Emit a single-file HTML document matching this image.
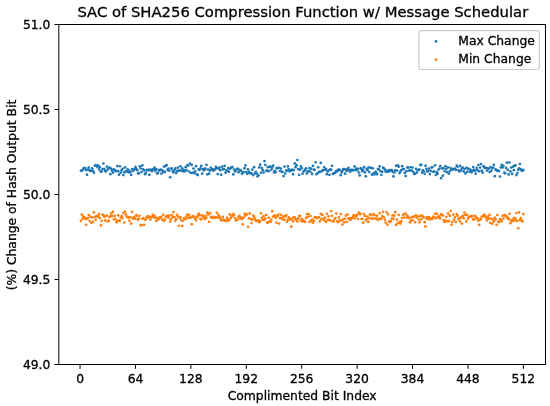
<!DOCTYPE html>
<html><head><meta charset="utf-8"><style>
html,body{margin:0;padding:0;background:#fff;width:550px;height:406px;overflow:hidden}
svg{display:block}
text{font-family:"DejaVu Sans","Liberation Sans",sans-serif;stroke:#000;stroke-width:0.3px}
</style></head><body>
<svg width="550" height="406" viewBox="0 0 550 406">
<rect width="550" height="406" fill="#fff"/>
<g fill="#1f77b4"><circle cx="80.93" cy="170.82" r="1.35"/><circle cx="81.79" cy="170.45" r="1.35"/><circle cx="82.66" cy="169.99" r="1.35"/><circle cx="83.52" cy="168.32" r="1.35"/><circle cx="84.39" cy="168.19" r="1.35"/><circle cx="85.25" cy="168.09" r="1.35"/><circle cx="86.12" cy="170.12" r="1.35"/><circle cx="86.99" cy="174.70" r="1.35"/><circle cx="87.85" cy="169.64" r="1.35"/><circle cx="88.72" cy="167.59" r="1.35"/><circle cx="89.58" cy="170.29" r="1.35"/><circle cx="90.45" cy="170.79" r="1.35"/><circle cx="91.32" cy="170.96" r="1.35"/><circle cx="92.18" cy="168.33" r="1.35"/><circle cx="93.05" cy="170.77" r="1.35"/><circle cx="93.91" cy="172.68" r="1.35"/><circle cx="94.78" cy="165.74" r="1.35"/><circle cx="95.64" cy="165.24" r="1.35"/><circle cx="96.51" cy="165.24" r="1.35"/><circle cx="97.38" cy="167.06" r="1.35"/><circle cx="98.24" cy="165.50" r="1.35"/><circle cx="99.11" cy="169.47" r="1.35"/><circle cx="99.97" cy="167.01" r="1.35"/><circle cx="100.84" cy="171.67" r="1.35"/><circle cx="101.71" cy="171.23" r="1.35"/><circle cx="102.57" cy="169.11" r="1.35"/><circle cx="103.44" cy="163.51" r="1.35"/><circle cx="104.30" cy="168.79" r="1.35"/><circle cx="105.17" cy="170.89" r="1.35"/><circle cx="106.03" cy="171.30" r="1.35"/><circle cx="106.90" cy="166.50" r="1.35"/><circle cx="107.77" cy="169.52" r="1.35"/><circle cx="108.63" cy="168.09" r="1.35"/><circle cx="109.50" cy="167.64" r="1.35"/><circle cx="110.36" cy="174.13" r="1.35"/><circle cx="111.23" cy="168.66" r="1.35"/><circle cx="112.10" cy="170.65" r="1.35"/><circle cx="112.96" cy="172.77" r="1.35"/><circle cx="113.83" cy="169.40" r="1.35"/><circle cx="114.69" cy="170.16" r="1.35"/><circle cx="115.56" cy="171.03" r="1.35"/><circle cx="116.42" cy="170.99" r="1.35"/><circle cx="117.29" cy="166.10" r="1.35"/><circle cx="118.16" cy="171.17" r="1.35"/><circle cx="119.02" cy="174.64" r="1.35"/><circle cx="119.89" cy="166.23" r="1.35"/><circle cx="120.75" cy="172.68" r="1.35"/><circle cx="121.62" cy="170.35" r="1.35"/><circle cx="122.49" cy="168.86" r="1.35"/><circle cx="123.35" cy="175.12" r="1.35"/><circle cx="124.22" cy="172.23" r="1.35"/><circle cx="125.08" cy="167.38" r="1.35"/><circle cx="125.95" cy="171.31" r="1.35"/><circle cx="126.81" cy="171.32" r="1.35"/><circle cx="127.68" cy="169.36" r="1.35"/><circle cx="128.55" cy="172.29" r="1.35"/><circle cx="129.41" cy="170.84" r="1.35"/><circle cx="130.28" cy="172.17" r="1.35"/><circle cx="131.14" cy="174.88" r="1.35"/><circle cx="132.01" cy="169.00" r="1.35"/><circle cx="132.88" cy="170.88" r="1.35"/><circle cx="133.74" cy="169.74" r="1.35"/><circle cx="134.61" cy="169.07" r="1.35"/><circle cx="135.47" cy="166.89" r="1.35"/><circle cx="136.34" cy="168.97" r="1.35"/><circle cx="137.20" cy="170.21" r="1.35"/><circle cx="138.07" cy="173.42" r="1.35"/><circle cx="138.94" cy="173.15" r="1.35"/><circle cx="139.80" cy="166.29" r="1.35"/><circle cx="140.67" cy="168.46" r="1.35"/><circle cx="141.53" cy="172.07" r="1.35"/><circle cx="142.40" cy="165.29" r="1.35"/><circle cx="143.26" cy="169.30" r="1.35"/><circle cx="144.13" cy="170.42" r="1.35"/><circle cx="145.00" cy="174.14" r="1.35"/><circle cx="145.86" cy="172.80" r="1.35"/><circle cx="146.73" cy="170.11" r="1.35"/><circle cx="147.59" cy="169.89" r="1.35"/><circle cx="148.46" cy="170.21" r="1.35"/><circle cx="149.33" cy="174.80" r="1.35"/><circle cx="150.19" cy="169.70" r="1.35"/><circle cx="151.06" cy="170.08" r="1.35"/><circle cx="151.92" cy="171.27" r="1.35"/><circle cx="152.79" cy="169.35" r="1.35"/><circle cx="153.65" cy="169.46" r="1.35"/><circle cx="154.52" cy="167.69" r="1.35"/><circle cx="155.39" cy="171.06" r="1.35"/><circle cx="156.25" cy="169.17" r="1.35"/><circle cx="157.12" cy="173.53" r="1.35"/><circle cx="157.98" cy="172.81" r="1.35"/><circle cx="158.85" cy="170.09" r="1.35"/><circle cx="159.72" cy="170.38" r="1.35"/><circle cx="160.58" cy="169.66" r="1.35"/><circle cx="161.45" cy="173.60" r="1.35"/><circle cx="162.31" cy="170.22" r="1.35"/><circle cx="163.18" cy="172.04" r="1.35"/><circle cx="164.04" cy="166.59" r="1.35"/><circle cx="164.91" cy="171.89" r="1.35"/><circle cx="165.78" cy="165.97" r="1.35"/><circle cx="166.64" cy="165.04" r="1.35"/><circle cx="167.51" cy="169.94" r="1.35"/><circle cx="168.37" cy="168.48" r="1.35"/><circle cx="169.24" cy="170.73" r="1.35"/><circle cx="170.11" cy="177.26" r="1.35"/><circle cx="170.97" cy="168.48" r="1.35"/><circle cx="171.84" cy="168.61" r="1.35"/><circle cx="172.70" cy="171.35" r="1.35"/><circle cx="173.57" cy="172.44" r="1.35"/><circle cx="174.43" cy="170.03" r="1.35"/><circle cx="175.30" cy="168.42" r="1.35"/><circle cx="176.17" cy="173.01" r="1.35"/><circle cx="177.03" cy="171.22" r="1.35"/><circle cx="177.90" cy="167.61" r="1.35"/><circle cx="178.76" cy="170.49" r="1.35"/><circle cx="179.63" cy="170.57" r="1.35"/><circle cx="180.50" cy="166.25" r="1.35"/><circle cx="181.36" cy="170.63" r="1.35"/><circle cx="182.23" cy="168.35" r="1.35"/><circle cx="183.09" cy="171.32" r="1.35"/><circle cx="183.96" cy="170.13" r="1.35"/><circle cx="184.82" cy="171.31" r="1.35"/><circle cx="185.69" cy="167.17" r="1.35"/><circle cx="186.56" cy="170.13" r="1.35"/><circle cx="187.42" cy="165.04" r="1.35"/><circle cx="188.29" cy="165.53" r="1.35"/><circle cx="189.15" cy="171.48" r="1.35"/><circle cx="190.02" cy="163.51" r="1.35"/><circle cx="190.88" cy="173.00" r="1.35"/><circle cx="191.75" cy="164.89" r="1.35"/><circle cx="192.62" cy="172.58" r="1.35"/><circle cx="193.48" cy="168.59" r="1.35"/><circle cx="194.35" cy="173.13" r="1.35"/><circle cx="195.21" cy="171.29" r="1.35"/><circle cx="196.08" cy="166.14" r="1.35"/><circle cx="196.95" cy="174.43" r="1.35"/><circle cx="197.81" cy="175.04" r="1.35"/><circle cx="198.68" cy="169.41" r="1.35"/><circle cx="199.54" cy="170.02" r="1.35"/><circle cx="200.41" cy="168.43" r="1.35"/><circle cx="201.27" cy="165.91" r="1.35"/><circle cx="202.14" cy="173.63" r="1.35"/><circle cx="203.01" cy="169.16" r="1.35"/><circle cx="203.87" cy="170.51" r="1.35"/><circle cx="204.74" cy="168.58" r="1.35"/><circle cx="205.60" cy="168.97" r="1.35"/><circle cx="206.47" cy="164.90" r="1.35"/><circle cx="207.34" cy="174.35" r="1.35"/><circle cx="208.20" cy="169.72" r="1.35"/><circle cx="209.07" cy="173.70" r="1.35"/><circle cx="209.93" cy="170.60" r="1.35"/><circle cx="210.80" cy="167.67" r="1.35"/><circle cx="211.66" cy="169.31" r="1.35"/><circle cx="212.53" cy="169.47" r="1.35"/><circle cx="213.40" cy="170.68" r="1.35"/><circle cx="214.26" cy="169.68" r="1.35"/><circle cx="215.13" cy="169.33" r="1.35"/><circle cx="215.99" cy="166.83" r="1.35"/><circle cx="216.86" cy="168.16" r="1.35"/><circle cx="217.73" cy="174.08" r="1.35"/><circle cx="218.59" cy="168.63" r="1.35"/><circle cx="219.46" cy="167.71" r="1.35"/><circle cx="220.32" cy="170.15" r="1.35"/><circle cx="221.19" cy="174.72" r="1.35"/><circle cx="222.05" cy="166.69" r="1.35"/><circle cx="222.92" cy="169.28" r="1.35"/><circle cx="223.79" cy="169.05" r="1.35"/><circle cx="224.65" cy="165.88" r="1.35"/><circle cx="225.52" cy="172.64" r="1.35"/><circle cx="226.38" cy="170.28" r="1.35"/><circle cx="227.25" cy="170.64" r="1.35"/><circle cx="228.12" cy="168.10" r="1.35"/><circle cx="228.98" cy="171.79" r="1.35"/><circle cx="229.85" cy="168.63" r="1.35"/><circle cx="230.71" cy="168.03" r="1.35"/><circle cx="231.58" cy="167.24" r="1.35"/><circle cx="232.44" cy="167.16" r="1.35"/><circle cx="233.31" cy="174.40" r="1.35"/><circle cx="234.18" cy="169.59" r="1.35"/><circle cx="235.04" cy="171.52" r="1.35"/><circle cx="235.91" cy="170.12" r="1.35"/><circle cx="236.77" cy="169.29" r="1.35"/><circle cx="237.64" cy="168.60" r="1.35"/><circle cx="238.51" cy="172.17" r="1.35"/><circle cx="239.37" cy="169.76" r="1.35"/><circle cx="240.24" cy="170.14" r="1.35"/><circle cx="241.10" cy="170.85" r="1.35"/><circle cx="241.97" cy="173.80" r="1.35"/><circle cx="242.83" cy="172.73" r="1.35"/><circle cx="243.70" cy="172.12" r="1.35"/><circle cx="244.57" cy="168.14" r="1.35"/><circle cx="245.43" cy="165.46" r="1.35"/><circle cx="246.30" cy="172.10" r="1.35"/><circle cx="247.16" cy="173.86" r="1.35"/><circle cx="248.03" cy="169.32" r="1.35"/><circle cx="248.89" cy="171.86" r="1.35"/><circle cx="249.76" cy="173.23" r="1.35"/><circle cx="250.63" cy="173.20" r="1.35"/><circle cx="251.49" cy="173.43" r="1.35"/><circle cx="252.36" cy="169.71" r="1.35"/><circle cx="253.22" cy="175.03" r="1.35"/><circle cx="254.09" cy="167.15" r="1.35"/><circle cx="254.96" cy="173.27" r="1.35"/><circle cx="255.82" cy="171.78" r="1.35"/><circle cx="256.69" cy="173.50" r="1.35"/><circle cx="257.55" cy="176.37" r="1.35"/><circle cx="258.42" cy="175.16" r="1.35"/><circle cx="259.28" cy="167.43" r="1.35"/><circle cx="260.15" cy="164.65" r="1.35"/><circle cx="261.02" cy="172.75" r="1.35"/><circle cx="261.88" cy="168.02" r="1.35"/><circle cx="262.75" cy="170.22" r="1.35"/><circle cx="263.61" cy="172.56" r="1.35"/><circle cx="264.48" cy="161.11" r="1.35"/><circle cx="265.35" cy="164.90" r="1.35"/><circle cx="266.21" cy="170.85" r="1.35"/><circle cx="267.08" cy="170.58" r="1.35"/><circle cx="267.94" cy="167.15" r="1.35"/><circle cx="268.81" cy="171.21" r="1.35"/><circle cx="269.67" cy="166.84" r="1.35"/><circle cx="270.54" cy="166.48" r="1.35"/><circle cx="271.41" cy="169.67" r="1.35"/><circle cx="272.27" cy="167.75" r="1.35"/><circle cx="273.14" cy="165.72" r="1.35"/><circle cx="274.00" cy="172.39" r="1.35"/><circle cx="274.87" cy="170.85" r="1.35"/><circle cx="275.74" cy="172.08" r="1.35"/><circle cx="276.60" cy="168.20" r="1.35"/><circle cx="277.47" cy="168.17" r="1.35"/><circle cx="278.33" cy="167.98" r="1.35"/><circle cx="279.20" cy="167.76" r="1.35"/><circle cx="280.06" cy="171.09" r="1.35"/><circle cx="280.93" cy="168.61" r="1.35"/><circle cx="281.80" cy="171.85" r="1.35"/><circle cx="282.66" cy="172.01" r="1.35"/><circle cx="283.53" cy="176.08" r="1.35"/><circle cx="284.39" cy="166.62" r="1.35"/><circle cx="285.26" cy="173.52" r="1.35"/><circle cx="286.13" cy="170.61" r="1.35"/><circle cx="286.99" cy="170.74" r="1.35"/><circle cx="287.86" cy="166.40" r="1.35"/><circle cx="288.72" cy="169.31" r="1.35"/><circle cx="289.59" cy="171.30" r="1.35"/><circle cx="290.45" cy="170.70" r="1.35"/><circle cx="291.32" cy="170.59" r="1.35"/><circle cx="292.19" cy="169.72" r="1.35"/><circle cx="293.05" cy="174.17" r="1.35"/><circle cx="293.92" cy="170.04" r="1.35"/><circle cx="294.78" cy="163.38" r="1.35"/><circle cx="295.65" cy="167.16" r="1.35"/><circle cx="296.52" cy="165.13" r="1.35"/><circle cx="297.38" cy="159.99" r="1.35"/><circle cx="298.25" cy="169.20" r="1.35"/><circle cx="299.11" cy="174.91" r="1.35"/><circle cx="299.98" cy="169.70" r="1.35"/><circle cx="300.84" cy="166.44" r="1.35"/><circle cx="301.71" cy="168.16" r="1.35"/><circle cx="302.58" cy="173.74" r="1.35"/><circle cx="303.44" cy="171.52" r="1.35"/><circle cx="304.31" cy="170.76" r="1.35"/><circle cx="305.17" cy="169.92" r="1.35"/><circle cx="306.04" cy="168.27" r="1.35"/><circle cx="306.90" cy="173.40" r="1.35"/><circle cx="307.77" cy="171.29" r="1.35"/><circle cx="308.64" cy="170.81" r="1.35"/><circle cx="309.50" cy="168.03" r="1.35"/><circle cx="310.37" cy="171.75" r="1.35"/><circle cx="311.23" cy="168.64" r="1.35"/><circle cx="312.10" cy="173.95" r="1.35"/><circle cx="312.97" cy="165.82" r="1.35"/><circle cx="313.83" cy="169.84" r="1.35"/><circle cx="314.70" cy="169.81" r="1.35"/><circle cx="315.56" cy="162.25" r="1.35"/><circle cx="316.43" cy="174.23" r="1.35"/><circle cx="317.29" cy="173.46" r="1.35"/><circle cx="318.16" cy="167.32" r="1.35"/><circle cx="319.03" cy="171.82" r="1.35"/><circle cx="319.89" cy="172.03" r="1.35"/><circle cx="320.76" cy="162.93" r="1.35"/><circle cx="321.62" cy="171.26" r="1.35"/><circle cx="322.49" cy="170.33" r="1.35"/><circle cx="323.36" cy="170.12" r="1.35"/><circle cx="324.22" cy="167.23" r="1.35"/><circle cx="325.09" cy="169.79" r="1.35"/><circle cx="325.95" cy="169.19" r="1.35"/><circle cx="326.82" cy="174.14" r="1.35"/><circle cx="327.68" cy="171.45" r="1.35"/><circle cx="328.55" cy="170.44" r="1.35"/><circle cx="329.42" cy="174.83" r="1.35"/><circle cx="330.28" cy="169.44" r="1.35"/><circle cx="331.15" cy="169.78" r="1.35"/><circle cx="332.01" cy="165.78" r="1.35"/><circle cx="332.88" cy="173.90" r="1.35"/><circle cx="333.75" cy="173.33" r="1.35"/><circle cx="334.61" cy="172.81" r="1.35"/><circle cx="335.48" cy="172.40" r="1.35"/><circle cx="336.34" cy="170.92" r="1.35"/><circle cx="337.21" cy="171.27" r="1.35"/><circle cx="338.07" cy="169.89" r="1.35"/><circle cx="338.94" cy="169.62" r="1.35"/><circle cx="339.81" cy="170.01" r="1.35"/><circle cx="340.67" cy="175.26" r="1.35"/><circle cx="341.54" cy="172.38" r="1.35"/><circle cx="342.40" cy="170.79" r="1.35"/><circle cx="343.27" cy="169.18" r="1.35"/><circle cx="344.14" cy="169.19" r="1.35"/><circle cx="345.00" cy="173.71" r="1.35"/><circle cx="345.87" cy="169.70" r="1.35"/><circle cx="346.73" cy="170.93" r="1.35"/><circle cx="347.60" cy="169.20" r="1.35"/><circle cx="348.46" cy="167.84" r="1.35"/><circle cx="349.33" cy="170.25" r="1.35"/><circle cx="350.20" cy="171.77" r="1.35"/><circle cx="351.06" cy="169.81" r="1.35"/><circle cx="351.93" cy="170.36" r="1.35"/><circle cx="352.79" cy="169.84" r="1.35"/><circle cx="353.66" cy="170.32" r="1.35"/><circle cx="354.53" cy="166.38" r="1.35"/><circle cx="355.39" cy="170.01" r="1.35"/><circle cx="356.26" cy="168.55" r="1.35"/><circle cx="357.12" cy="170.25" r="1.35"/><circle cx="357.99" cy="168.76" r="1.35"/><circle cx="358.85" cy="172.49" r="1.35"/><circle cx="359.72" cy="175.39" r="1.35"/><circle cx="360.59" cy="168.44" r="1.35"/><circle cx="361.45" cy="168.81" r="1.35"/><circle cx="362.32" cy="171.22" r="1.35"/><circle cx="363.18" cy="169.92" r="1.35"/><circle cx="364.05" cy="167.22" r="1.35"/><circle cx="364.91" cy="172.35" r="1.35"/><circle cx="365.78" cy="176.37" r="1.35"/><circle cx="366.65" cy="169.12" r="1.35"/><circle cx="367.51" cy="170.16" r="1.35"/><circle cx="368.38" cy="167.59" r="1.35"/><circle cx="369.24" cy="171.98" r="1.35"/><circle cx="370.11" cy="167.48" r="1.35"/><circle cx="370.98" cy="167.84" r="1.35"/><circle cx="371.84" cy="174.64" r="1.35"/><circle cx="372.71" cy="168.43" r="1.35"/><circle cx="373.57" cy="173.42" r="1.35"/><circle cx="374.44" cy="174.45" r="1.35"/><circle cx="375.30" cy="171.74" r="1.35"/><circle cx="376.17" cy="172.68" r="1.35"/><circle cx="377.04" cy="174.14" r="1.35"/><circle cx="377.90" cy="169.18" r="1.35"/><circle cx="378.77" cy="169.32" r="1.35"/><circle cx="379.63" cy="166.41" r="1.35"/><circle cx="380.50" cy="171.18" r="1.35"/><circle cx="381.37" cy="174.98" r="1.35"/><circle cx="382.23" cy="171.91" r="1.35"/><circle cx="383.10" cy="167.72" r="1.35"/><circle cx="383.96" cy="168.31" r="1.35"/><circle cx="384.83" cy="169.62" r="1.35"/><circle cx="385.69" cy="171.79" r="1.35"/><circle cx="386.56" cy="170.49" r="1.35"/><circle cx="387.43" cy="171.68" r="1.35"/><circle cx="388.29" cy="171.75" r="1.35"/><circle cx="389.16" cy="170.20" r="1.35"/><circle cx="390.02" cy="170.85" r="1.35"/><circle cx="390.89" cy="170.18" r="1.35"/><circle cx="391.76" cy="170.21" r="1.35"/><circle cx="392.62" cy="171.78" r="1.35"/><circle cx="393.49" cy="176.38" r="1.35"/><circle cx="394.35" cy="172.49" r="1.35"/><circle cx="395.22" cy="170.35" r="1.35"/><circle cx="396.08" cy="165.79" r="1.35"/><circle cx="396.95" cy="170.62" r="1.35"/><circle cx="397.82" cy="165.34" r="1.35"/><circle cx="398.68" cy="166.86" r="1.35"/><circle cx="399.55" cy="173.12" r="1.35"/><circle cx="400.41" cy="171.38" r="1.35"/><circle cx="401.28" cy="170.03" r="1.35"/><circle cx="402.15" cy="166.14" r="1.35"/><circle cx="403.01" cy="169.04" r="1.35"/><circle cx="403.88" cy="169.05" r="1.35"/><circle cx="404.74" cy="172.81" r="1.35"/><circle cx="405.61" cy="175.93" r="1.35"/><circle cx="406.47" cy="171.18" r="1.35"/><circle cx="407.34" cy="167.47" r="1.35"/><circle cx="408.21" cy="167.62" r="1.35"/><circle cx="409.07" cy="170.57" r="1.35"/><circle cx="409.94" cy="170.56" r="1.35"/><circle cx="410.80" cy="167.27" r="1.35"/><circle cx="411.67" cy="170.59" r="1.35"/><circle cx="412.54" cy="167.52" r="1.35"/><circle cx="413.40" cy="172.00" r="1.35"/><circle cx="414.27" cy="173.97" r="1.35"/><circle cx="415.13" cy="173.78" r="1.35"/><circle cx="416.00" cy="168.88" r="1.35"/><circle cx="416.86" cy="172.57" r="1.35"/><circle cx="417.73" cy="170.51" r="1.35"/><circle cx="418.60" cy="169.56" r="1.35"/><circle cx="419.46" cy="169.48" r="1.35"/><circle cx="420.33" cy="164.97" r="1.35"/><circle cx="421.19" cy="164.79" r="1.35"/><circle cx="422.06" cy="172.67" r="1.35"/><circle cx="422.92" cy="170.37" r="1.35"/><circle cx="423.79" cy="171.33" r="1.35"/><circle cx="424.66" cy="173.74" r="1.35"/><circle cx="425.52" cy="165.66" r="1.35"/><circle cx="426.39" cy="168.82" r="1.35"/><circle cx="427.25" cy="171.45" r="1.35"/><circle cx="428.12" cy="170.96" r="1.35"/><circle cx="428.99" cy="168.62" r="1.35"/><circle cx="429.85" cy="174.04" r="1.35"/><circle cx="430.72" cy="170.93" r="1.35"/><circle cx="431.58" cy="167.38" r="1.35"/><circle cx="432.45" cy="167.23" r="1.35"/><circle cx="433.31" cy="171.79" r="1.35"/><circle cx="434.18" cy="171.39" r="1.35"/><circle cx="435.05" cy="165.32" r="1.35"/><circle cx="435.91" cy="174.97" r="1.35"/><circle cx="436.78" cy="172.14" r="1.35"/><circle cx="437.64" cy="173.70" r="1.35"/><circle cx="438.51" cy="169.62" r="1.35"/><circle cx="439.38" cy="168.49" r="1.35"/><circle cx="440.24" cy="166.03" r="1.35"/><circle cx="441.11" cy="178.21" r="1.35"/><circle cx="441.97" cy="168.35" r="1.35"/><circle cx="442.84" cy="175.70" r="1.35"/><circle cx="443.70" cy="168.33" r="1.35"/><circle cx="444.57" cy="171.24" r="1.35"/><circle cx="445.44" cy="166.14" r="1.35"/><circle cx="446.30" cy="169.12" r="1.35"/><circle cx="447.17" cy="172.14" r="1.35"/><circle cx="448.03" cy="167.34" r="1.35"/><circle cx="448.90" cy="173.56" r="1.35"/><circle cx="449.77" cy="171.23" r="1.35"/><circle cx="450.63" cy="168.07" r="1.35"/><circle cx="451.50" cy="169.35" r="1.35"/><circle cx="452.36" cy="169.66" r="1.35"/><circle cx="453.23" cy="169.02" r="1.35"/><circle cx="454.09" cy="168.99" r="1.35"/><circle cx="454.96" cy="168.62" r="1.35"/><circle cx="455.83" cy="169.87" r="1.35"/><circle cx="456.69" cy="165.68" r="1.35"/><circle cx="457.56" cy="166.87" r="1.35"/><circle cx="458.42" cy="170.24" r="1.35"/><circle cx="459.29" cy="171.40" r="1.35"/><circle cx="460.16" cy="165.95" r="1.35"/><circle cx="461.02" cy="170.47" r="1.35"/><circle cx="461.89" cy="168.35" r="1.35"/><circle cx="462.75" cy="167.66" r="1.35"/><circle cx="463.62" cy="171.48" r="1.35"/><circle cx="464.48" cy="169.09" r="1.35"/><circle cx="465.35" cy="173.45" r="1.35"/><circle cx="466.22" cy="167.91" r="1.35"/><circle cx="467.08" cy="171.79" r="1.35"/><circle cx="467.95" cy="168.53" r="1.35"/><circle cx="468.81" cy="168.87" r="1.35"/><circle cx="469.68" cy="171.56" r="1.35"/><circle cx="470.54" cy="169.77" r="1.35"/><circle cx="471.41" cy="172.37" r="1.35"/><circle cx="472.28" cy="170.94" r="1.35"/><circle cx="473.14" cy="167.12" r="1.35"/><circle cx="474.01" cy="169.93" r="1.35"/><circle cx="474.87" cy="170.71" r="1.35"/><circle cx="475.74" cy="173.64" r="1.35"/><circle cx="476.61" cy="167.88" r="1.35"/><circle cx="477.47" cy="170.17" r="1.35"/><circle cx="478.34" cy="165.00" r="1.35"/><circle cx="479.20" cy="171.37" r="1.35"/><circle cx="480.07" cy="167.57" r="1.35"/><circle cx="480.93" cy="164.11" r="1.35"/><circle cx="481.80" cy="170.69" r="1.35"/><circle cx="482.67" cy="172.63" r="1.35"/><circle cx="483.53" cy="166.19" r="1.35"/><circle cx="484.40" cy="167.47" r="1.35"/><circle cx="485.26" cy="168.03" r="1.35"/><circle cx="486.13" cy="167.76" r="1.35"/><circle cx="487.00" cy="170.61" r="1.35"/><circle cx="487.86" cy="168.27" r="1.35"/><circle cx="488.73" cy="168.80" r="1.35"/><circle cx="489.59" cy="172.00" r="1.35"/><circle cx="490.46" cy="166.99" r="1.35"/><circle cx="491.32" cy="170.82" r="1.35"/><circle cx="492.19" cy="168.18" r="1.35"/><circle cx="493.06" cy="167.52" r="1.35"/><circle cx="493.92" cy="164.86" r="1.35"/><circle cx="494.79" cy="176.19" r="1.35"/><circle cx="495.65" cy="169.44" r="1.35"/><circle cx="496.52" cy="170.37" r="1.35"/><circle cx="497.39" cy="170.78" r="1.35"/><circle cx="498.25" cy="170.59" r="1.35"/><circle cx="499.12" cy="171.01" r="1.35"/><circle cx="499.98" cy="176.50" r="1.35"/><circle cx="500.85" cy="167.41" r="1.35"/><circle cx="501.71" cy="164.83" r="1.35"/><circle cx="502.58" cy="167.39" r="1.35"/><circle cx="503.45" cy="165.87" r="1.35"/><circle cx="504.31" cy="172.63" r="1.35"/><circle cx="505.18" cy="173.30" r="1.35"/><circle cx="506.04" cy="167.96" r="1.35"/><circle cx="506.91" cy="162.67" r="1.35"/><circle cx="507.78" cy="169.89" r="1.35"/><circle cx="508.64" cy="174.38" r="1.35"/><circle cx="509.51" cy="162.52" r="1.35"/><circle cx="510.37" cy="171.47" r="1.35"/><circle cx="511.24" cy="167.52" r="1.35"/><circle cx="512.10" cy="173.94" r="1.35"/><circle cx="512.97" cy="166.69" r="1.35"/><circle cx="513.84" cy="170.20" r="1.35"/><circle cx="514.70" cy="165.57" r="1.35"/><circle cx="515.57" cy="165.26" r="1.35"/><circle cx="516.43" cy="175.11" r="1.35"/><circle cx="517.30" cy="173.12" r="1.35"/><circle cx="518.17" cy="169.79" r="1.35"/><circle cx="519.03" cy="168.46" r="1.35"/><circle cx="519.90" cy="164.00" r="1.35"/><circle cx="520.76" cy="169.18" r="1.35"/><circle cx="521.63" cy="170.62" r="1.35"/><circle cx="522.49" cy="170.82" r="1.35"/><circle cx="523.36" cy="169.80" r="1.35"/></g>
<g fill="#ff7f0e"><circle cx="80.93" cy="220.91" r="1.35"/><circle cx="81.79" cy="214.56" r="1.35"/><circle cx="82.66" cy="218.55" r="1.35"/><circle cx="83.52" cy="216.71" r="1.35"/><circle cx="84.39" cy="217.44" r="1.35"/><circle cx="85.25" cy="218.94" r="1.35"/><circle cx="86.12" cy="224.74" r="1.35"/><circle cx="86.99" cy="218.39" r="1.35"/><circle cx="87.85" cy="218.22" r="1.35"/><circle cx="88.72" cy="214.99" r="1.35"/><circle cx="89.58" cy="221.04" r="1.35"/><circle cx="90.45" cy="216.56" r="1.35"/><circle cx="91.32" cy="222.85" r="1.35"/><circle cx="92.18" cy="217.48" r="1.35"/><circle cx="93.05" cy="221.87" r="1.35"/><circle cx="93.91" cy="212.30" r="1.35"/><circle cx="94.78" cy="216.88" r="1.35"/><circle cx="95.64" cy="219.79" r="1.35"/><circle cx="96.51" cy="216.31" r="1.35"/><circle cx="97.38" cy="215.81" r="1.35"/><circle cx="98.24" cy="216.89" r="1.35"/><circle cx="99.11" cy="214.13" r="1.35"/><circle cx="99.97" cy="218.00" r="1.35"/><circle cx="100.84" cy="225.30" r="1.35"/><circle cx="101.71" cy="220.76" r="1.35"/><circle cx="102.57" cy="214.53" r="1.35"/><circle cx="103.44" cy="215.30" r="1.35"/><circle cx="104.30" cy="216.83" r="1.35"/><circle cx="105.17" cy="220.38" r="1.35"/><circle cx="106.03" cy="216.12" r="1.35"/><circle cx="106.90" cy="215.49" r="1.35"/><circle cx="107.77" cy="221.40" r="1.35"/><circle cx="108.63" cy="220.64" r="1.35"/><circle cx="109.50" cy="217.10" r="1.35"/><circle cx="110.36" cy="216.04" r="1.35"/><circle cx="111.23" cy="213.37" r="1.35"/><circle cx="112.10" cy="216.03" r="1.35"/><circle cx="112.96" cy="211.86" r="1.35"/><circle cx="113.83" cy="219.48" r="1.35"/><circle cx="114.69" cy="215.89" r="1.35"/><circle cx="115.56" cy="218.98" r="1.35"/><circle cx="116.42" cy="222.33" r="1.35"/><circle cx="117.29" cy="221.05" r="1.35"/><circle cx="118.16" cy="215.32" r="1.35"/><circle cx="119.02" cy="220.68" r="1.35"/><circle cx="119.89" cy="220.65" r="1.35"/><circle cx="120.75" cy="217.45" r="1.35"/><circle cx="121.62" cy="216.06" r="1.35"/><circle cx="122.49" cy="218.05" r="1.35"/><circle cx="123.35" cy="213.09" r="1.35"/><circle cx="124.22" cy="222.51" r="1.35"/><circle cx="125.08" cy="211.71" r="1.35"/><circle cx="125.95" cy="214.54" r="1.35"/><circle cx="126.81" cy="216.77" r="1.35"/><circle cx="127.68" cy="216.85" r="1.35"/><circle cx="128.55" cy="217.65" r="1.35"/><circle cx="129.41" cy="220.76" r="1.35"/><circle cx="130.28" cy="217.19" r="1.35"/><circle cx="131.14" cy="223.53" r="1.35"/><circle cx="132.01" cy="211.80" r="1.35"/><circle cx="132.88" cy="218.79" r="1.35"/><circle cx="133.74" cy="217.16" r="1.35"/><circle cx="134.61" cy="217.65" r="1.35"/><circle cx="135.47" cy="218.80" r="1.35"/><circle cx="136.34" cy="215.19" r="1.35"/><circle cx="137.20" cy="215.73" r="1.35"/><circle cx="138.07" cy="219.65" r="1.35"/><circle cx="138.94" cy="218.50" r="1.35"/><circle cx="139.80" cy="215.77" r="1.35"/><circle cx="140.67" cy="225.19" r="1.35"/><circle cx="141.53" cy="225.16" r="1.35"/><circle cx="142.40" cy="218.77" r="1.35"/><circle cx="143.26" cy="218.21" r="1.35"/><circle cx="144.13" cy="224.78" r="1.35"/><circle cx="145.00" cy="219.68" r="1.35"/><circle cx="145.86" cy="219.27" r="1.35"/><circle cx="146.73" cy="216.99" r="1.35"/><circle cx="147.59" cy="216.45" r="1.35"/><circle cx="148.46" cy="217.40" r="1.35"/><circle cx="149.33" cy="216.54" r="1.35"/><circle cx="150.19" cy="219.74" r="1.35"/><circle cx="151.06" cy="217.46" r="1.35"/><circle cx="151.92" cy="217.02" r="1.35"/><circle cx="152.79" cy="214.91" r="1.35"/><circle cx="153.65" cy="217.32" r="1.35"/><circle cx="154.52" cy="215.93" r="1.35"/><circle cx="155.39" cy="217.49" r="1.35"/><circle cx="156.25" cy="220.81" r="1.35"/><circle cx="157.12" cy="218.17" r="1.35"/><circle cx="157.98" cy="219.47" r="1.35"/><circle cx="158.85" cy="218.94" r="1.35"/><circle cx="159.72" cy="217.36" r="1.35"/><circle cx="160.58" cy="217.77" r="1.35"/><circle cx="161.45" cy="216.83" r="1.35"/><circle cx="162.31" cy="219.81" r="1.35"/><circle cx="163.18" cy="214.73" r="1.35"/><circle cx="164.04" cy="220.72" r="1.35"/><circle cx="164.91" cy="219.56" r="1.35"/><circle cx="165.78" cy="216.59" r="1.35"/><circle cx="166.64" cy="216.18" r="1.35"/><circle cx="167.51" cy="215.73" r="1.35"/><circle cx="168.37" cy="217.79" r="1.35"/><circle cx="169.24" cy="215.68" r="1.35"/><circle cx="170.11" cy="221.63" r="1.35"/><circle cx="170.97" cy="219.16" r="1.35"/><circle cx="171.84" cy="215.04" r="1.35"/><circle cx="172.70" cy="217.19" r="1.35"/><circle cx="173.57" cy="211.98" r="1.35"/><circle cx="174.43" cy="217.21" r="1.35"/><circle cx="175.30" cy="220.86" r="1.35"/><circle cx="176.17" cy="219.22" r="1.35"/><circle cx="177.03" cy="214.96" r="1.35"/><circle cx="177.90" cy="216.36" r="1.35"/><circle cx="178.76" cy="225.75" r="1.35"/><circle cx="179.63" cy="218.11" r="1.35"/><circle cx="180.50" cy="217.35" r="1.35"/><circle cx="181.36" cy="220.29" r="1.35"/><circle cx="182.23" cy="225.89" r="1.35"/><circle cx="183.09" cy="220.74" r="1.35"/><circle cx="183.96" cy="218.10" r="1.35"/><circle cx="184.82" cy="218.54" r="1.35"/><circle cx="185.69" cy="219.11" r="1.35"/><circle cx="186.56" cy="216.33" r="1.35"/><circle cx="187.42" cy="214.60" r="1.35"/><circle cx="188.29" cy="217.82" r="1.35"/><circle cx="189.15" cy="214.77" r="1.35"/><circle cx="190.02" cy="217.49" r="1.35"/><circle cx="190.88" cy="217.69" r="1.35"/><circle cx="191.75" cy="224.15" r="1.35"/><circle cx="192.62" cy="216.04" r="1.35"/><circle cx="193.48" cy="217.06" r="1.35"/><circle cx="194.35" cy="216.81" r="1.35"/><circle cx="195.21" cy="218.75" r="1.35"/><circle cx="196.08" cy="220.42" r="1.35"/><circle cx="196.95" cy="217.14" r="1.35"/><circle cx="197.81" cy="215.64" r="1.35"/><circle cx="198.68" cy="213.67" r="1.35"/><circle cx="199.54" cy="215.13" r="1.35"/><circle cx="200.41" cy="218.96" r="1.35"/><circle cx="201.27" cy="219.50" r="1.35"/><circle cx="202.14" cy="215.44" r="1.35"/><circle cx="203.01" cy="216.43" r="1.35"/><circle cx="203.87" cy="217.67" r="1.35"/><circle cx="204.74" cy="218.92" r="1.35"/><circle cx="205.60" cy="215.85" r="1.35"/><circle cx="206.47" cy="217.93" r="1.35"/><circle cx="207.34" cy="212.55" r="1.35"/><circle cx="208.20" cy="214.61" r="1.35"/><circle cx="209.07" cy="221.81" r="1.35"/><circle cx="209.93" cy="213.17" r="1.35"/><circle cx="210.80" cy="216.83" r="1.35"/><circle cx="211.66" cy="217.99" r="1.35"/><circle cx="212.53" cy="217.20" r="1.35"/><circle cx="213.40" cy="216.95" r="1.35"/><circle cx="214.26" cy="217.63" r="1.35"/><circle cx="215.13" cy="217.78" r="1.35"/><circle cx="215.99" cy="217.11" r="1.35"/><circle cx="216.86" cy="212.87" r="1.35"/><circle cx="217.73" cy="217.84" r="1.35"/><circle cx="218.59" cy="215.02" r="1.35"/><circle cx="219.46" cy="216.53" r="1.35"/><circle cx="220.32" cy="218.41" r="1.35"/><circle cx="221.19" cy="220.47" r="1.35"/><circle cx="222.05" cy="220.00" r="1.35"/><circle cx="222.92" cy="216.94" r="1.35"/><circle cx="223.79" cy="219.76" r="1.35"/><circle cx="224.65" cy="220.76" r="1.35"/><circle cx="225.52" cy="220.20" r="1.35"/><circle cx="226.38" cy="220.90" r="1.35"/><circle cx="227.25" cy="217.63" r="1.35"/><circle cx="228.12" cy="220.70" r="1.35"/><circle cx="228.98" cy="219.92" r="1.35"/><circle cx="229.85" cy="214.43" r="1.35"/><circle cx="230.71" cy="218.05" r="1.35"/><circle cx="231.58" cy="215.92" r="1.35"/><circle cx="232.44" cy="216.27" r="1.35"/><circle cx="233.31" cy="214.11" r="1.35"/><circle cx="234.18" cy="214.92" r="1.35"/><circle cx="235.04" cy="217.98" r="1.35"/><circle cx="235.91" cy="220.26" r="1.35"/><circle cx="236.77" cy="219.79" r="1.35"/><circle cx="237.64" cy="219.75" r="1.35"/><circle cx="238.51" cy="216.90" r="1.35"/><circle cx="239.37" cy="215.80" r="1.35"/><circle cx="240.24" cy="218.51" r="1.35"/><circle cx="241.10" cy="217.38" r="1.35"/><circle cx="241.97" cy="218.92" r="1.35"/><circle cx="242.83" cy="224.40" r="1.35"/><circle cx="243.70" cy="217.65" r="1.35"/><circle cx="244.57" cy="213.84" r="1.35"/><circle cx="245.43" cy="215.58" r="1.35"/><circle cx="246.30" cy="214.10" r="1.35"/><circle cx="247.16" cy="214.52" r="1.35"/><circle cx="248.03" cy="226.83" r="1.35"/><circle cx="248.89" cy="218.30" r="1.35"/><circle cx="249.76" cy="213.47" r="1.35"/><circle cx="250.63" cy="218.99" r="1.35"/><circle cx="251.49" cy="223.00" r="1.35"/><circle cx="252.36" cy="219.65" r="1.35"/><circle cx="253.22" cy="215.62" r="1.35"/><circle cx="254.09" cy="216.95" r="1.35"/><circle cx="254.96" cy="218.89" r="1.35"/><circle cx="255.82" cy="220.55" r="1.35"/><circle cx="256.69" cy="220.85" r="1.35"/><circle cx="257.55" cy="220.77" r="1.35"/><circle cx="258.42" cy="220.36" r="1.35"/><circle cx="259.28" cy="222.26" r="1.35"/><circle cx="260.15" cy="221.04" r="1.35"/><circle cx="261.02" cy="213.28" r="1.35"/><circle cx="261.88" cy="217.77" r="1.35"/><circle cx="262.75" cy="219.84" r="1.35"/><circle cx="263.61" cy="216.21" r="1.35"/><circle cx="264.48" cy="219.79" r="1.35"/><circle cx="265.35" cy="218.48" r="1.35"/><circle cx="266.21" cy="214.97" r="1.35"/><circle cx="267.08" cy="222.44" r="1.35"/><circle cx="267.94" cy="222.56" r="1.35"/><circle cx="268.81" cy="217.84" r="1.35"/><circle cx="269.67" cy="221.33" r="1.35"/><circle cx="270.54" cy="221.95" r="1.35"/><circle cx="271.41" cy="219.54" r="1.35"/><circle cx="272.27" cy="211.37" r="1.35"/><circle cx="273.14" cy="216.57" r="1.35"/><circle cx="274.00" cy="216.32" r="1.35"/><circle cx="274.87" cy="215.23" r="1.35"/><circle cx="275.74" cy="217.85" r="1.35"/><circle cx="276.60" cy="222.68" r="1.35"/><circle cx="277.47" cy="216.14" r="1.35"/><circle cx="278.33" cy="214.60" r="1.35"/><circle cx="279.20" cy="223.60" r="1.35"/><circle cx="280.06" cy="218.08" r="1.35"/><circle cx="280.93" cy="214.79" r="1.35"/><circle cx="281.80" cy="217.90" r="1.35"/><circle cx="282.66" cy="219.15" r="1.35"/><circle cx="283.53" cy="216.29" r="1.35"/><circle cx="284.39" cy="219.95" r="1.35"/><circle cx="285.26" cy="216.61" r="1.35"/><circle cx="286.13" cy="215.14" r="1.35"/><circle cx="286.99" cy="221.79" r="1.35"/><circle cx="287.86" cy="219.81" r="1.35"/><circle cx="288.72" cy="217.46" r="1.35"/><circle cx="289.59" cy="218.63" r="1.35"/><circle cx="290.45" cy="219.68" r="1.35"/><circle cx="291.32" cy="226.68" r="1.35"/><circle cx="292.19" cy="218.59" r="1.35"/><circle cx="293.05" cy="221.45" r="1.35"/><circle cx="293.92" cy="217.26" r="1.35"/><circle cx="294.78" cy="217.44" r="1.35"/><circle cx="295.65" cy="219.40" r="1.35"/><circle cx="296.52" cy="219.60" r="1.35"/><circle cx="297.38" cy="221.52" r="1.35"/><circle cx="298.25" cy="218.54" r="1.35"/><circle cx="299.11" cy="216.05" r="1.35"/><circle cx="299.98" cy="215.86" r="1.35"/><circle cx="300.84" cy="220.77" r="1.35"/><circle cx="301.71" cy="218.81" r="1.35"/><circle cx="302.58" cy="221.53" r="1.35"/><circle cx="303.44" cy="220.30" r="1.35"/><circle cx="304.31" cy="221.41" r="1.35"/><circle cx="305.17" cy="221.89" r="1.35"/><circle cx="306.04" cy="217.81" r="1.35"/><circle cx="306.90" cy="214.11" r="1.35"/><circle cx="307.77" cy="217.12" r="1.35"/><circle cx="308.64" cy="214.04" r="1.35"/><circle cx="309.50" cy="221.93" r="1.35"/><circle cx="310.37" cy="216.01" r="1.35"/><circle cx="311.23" cy="220.64" r="1.35"/><circle cx="312.10" cy="219.67" r="1.35"/><circle cx="312.97" cy="222.71" r="1.35"/><circle cx="313.83" cy="220.80" r="1.35"/><circle cx="314.70" cy="217.44" r="1.35"/><circle cx="315.56" cy="217.30" r="1.35"/><circle cx="316.43" cy="217.94" r="1.35"/><circle cx="317.29" cy="218.01" r="1.35"/><circle cx="318.16" cy="217.49" r="1.35"/><circle cx="319.03" cy="217.26" r="1.35"/><circle cx="319.89" cy="221.41" r="1.35"/><circle cx="320.76" cy="213.95" r="1.35"/><circle cx="321.62" cy="219.18" r="1.35"/><circle cx="322.49" cy="214.90" r="1.35"/><circle cx="323.36" cy="218.80" r="1.35"/><circle cx="324.22" cy="220.52" r="1.35"/><circle cx="325.09" cy="217.65" r="1.35"/><circle cx="325.95" cy="221.96" r="1.35"/><circle cx="326.82" cy="213.76" r="1.35"/><circle cx="327.68" cy="220.17" r="1.35"/><circle cx="328.55" cy="216.34" r="1.35"/><circle cx="329.42" cy="219.82" r="1.35"/><circle cx="330.28" cy="220.39" r="1.35"/><circle cx="331.15" cy="211.02" r="1.35"/><circle cx="332.01" cy="215.87" r="1.35"/><circle cx="332.88" cy="221.13" r="1.35"/><circle cx="333.75" cy="221.48" r="1.35"/><circle cx="334.61" cy="219.03" r="1.35"/><circle cx="335.48" cy="218.10" r="1.35"/><circle cx="336.34" cy="213.54" r="1.35"/><circle cx="337.21" cy="220.98" r="1.35"/><circle cx="338.07" cy="222.23" r="1.35"/><circle cx="338.94" cy="217.39" r="1.35"/><circle cx="339.81" cy="220.68" r="1.35"/><circle cx="340.67" cy="214.00" r="1.35"/><circle cx="341.54" cy="220.49" r="1.35"/><circle cx="342.40" cy="224.49" r="1.35"/><circle cx="343.27" cy="219.41" r="1.35"/><circle cx="344.14" cy="222.31" r="1.35"/><circle cx="345.00" cy="218.77" r="1.35"/><circle cx="345.87" cy="215.59" r="1.35"/><circle cx="346.73" cy="221.90" r="1.35"/><circle cx="347.60" cy="214.51" r="1.35"/><circle cx="348.46" cy="218.28" r="1.35"/><circle cx="349.33" cy="218.38" r="1.35"/><circle cx="350.20" cy="220.01" r="1.35"/><circle cx="351.06" cy="218.58" r="1.35"/><circle cx="351.93" cy="218.31" r="1.35"/><circle cx="352.79" cy="217.00" r="1.35"/><circle cx="353.66" cy="215.05" r="1.35"/><circle cx="354.53" cy="218.37" r="1.35"/><circle cx="355.39" cy="215.85" r="1.35"/><circle cx="356.26" cy="216.17" r="1.35"/><circle cx="357.12" cy="214.79" r="1.35"/><circle cx="357.99" cy="219.00" r="1.35"/><circle cx="358.85" cy="212.55" r="1.35"/><circle cx="359.72" cy="214.05" r="1.35"/><circle cx="360.59" cy="213.91" r="1.35"/><circle cx="361.45" cy="218.98" r="1.35"/><circle cx="362.32" cy="218.78" r="1.35"/><circle cx="363.18" cy="222.72" r="1.35"/><circle cx="364.05" cy="214.00" r="1.35"/><circle cx="364.91" cy="216.02" r="1.35"/><circle cx="365.78" cy="220.38" r="1.35"/><circle cx="366.65" cy="219.10" r="1.35"/><circle cx="367.51" cy="216.52" r="1.35"/><circle cx="368.38" cy="221.96" r="1.35"/><circle cx="369.24" cy="218.36" r="1.35"/><circle cx="370.11" cy="214.26" r="1.35"/><circle cx="370.98" cy="215.14" r="1.35"/><circle cx="371.84" cy="218.68" r="1.35"/><circle cx="372.71" cy="218.49" r="1.35"/><circle cx="373.57" cy="214.20" r="1.35"/><circle cx="374.44" cy="215.34" r="1.35"/><circle cx="375.30" cy="218.75" r="1.35"/><circle cx="376.17" cy="218.72" r="1.35"/><circle cx="377.04" cy="215.72" r="1.35"/><circle cx="377.90" cy="219.85" r="1.35"/><circle cx="378.77" cy="219.04" r="1.35"/><circle cx="379.63" cy="213.03" r="1.35"/><circle cx="380.50" cy="218.73" r="1.35"/><circle cx="381.37" cy="218.69" r="1.35"/><circle cx="382.23" cy="216.09" r="1.35"/><circle cx="383.10" cy="211.87" r="1.35"/><circle cx="383.96" cy="217.27" r="1.35"/><circle cx="384.83" cy="219.77" r="1.35"/><circle cx="385.69" cy="222.59" r="1.35"/><circle cx="386.56" cy="212.38" r="1.35"/><circle cx="387.43" cy="224.70" r="1.35"/><circle cx="388.29" cy="214.49" r="1.35"/><circle cx="389.16" cy="221.33" r="1.35"/><circle cx="390.02" cy="222.02" r="1.35"/><circle cx="390.89" cy="221.34" r="1.35"/><circle cx="391.76" cy="218.55" r="1.35"/><circle cx="392.62" cy="215.39" r="1.35"/><circle cx="393.49" cy="218.93" r="1.35"/><circle cx="394.35" cy="215.57" r="1.35"/><circle cx="395.22" cy="212.17" r="1.35"/><circle cx="396.08" cy="224.95" r="1.35"/><circle cx="396.95" cy="219.71" r="1.35"/><circle cx="397.82" cy="223.26" r="1.35"/><circle cx="398.68" cy="214.90" r="1.35"/><circle cx="399.55" cy="222.02" r="1.35"/><circle cx="400.41" cy="223.62" r="1.35"/><circle cx="401.28" cy="221.31" r="1.35"/><circle cx="402.15" cy="218.07" r="1.35"/><circle cx="403.01" cy="214.78" r="1.35"/><circle cx="403.88" cy="217.57" r="1.35"/><circle cx="404.74" cy="213.84" r="1.35"/><circle cx="405.61" cy="213.81" r="1.35"/><circle cx="406.47" cy="217.61" r="1.35"/><circle cx="407.34" cy="215.57" r="1.35"/><circle cx="408.21" cy="217.27" r="1.35"/><circle cx="409.07" cy="217.91" r="1.35"/><circle cx="409.94" cy="222.33" r="1.35"/><circle cx="410.80" cy="220.67" r="1.35"/><circle cx="411.67" cy="217.33" r="1.35"/><circle cx="412.54" cy="220.41" r="1.35"/><circle cx="413.40" cy="216.50" r="1.35"/><circle cx="414.27" cy="216.86" r="1.35"/><circle cx="415.13" cy="222.24" r="1.35"/><circle cx="416.00" cy="215.30" r="1.35"/><circle cx="416.86" cy="217.38" r="1.35"/><circle cx="417.73" cy="216.24" r="1.35"/><circle cx="418.60" cy="219.51" r="1.35"/><circle cx="419.46" cy="222.35" r="1.35"/><circle cx="420.33" cy="216.22" r="1.35"/><circle cx="421.19" cy="219.56" r="1.35"/><circle cx="422.06" cy="215.46" r="1.35"/><circle cx="422.92" cy="217.03" r="1.35"/><circle cx="423.79" cy="217.30" r="1.35"/><circle cx="424.66" cy="222.14" r="1.35"/><circle cx="425.52" cy="226.37" r="1.35"/><circle cx="426.39" cy="218.52" r="1.35"/><circle cx="427.25" cy="217.09" r="1.35"/><circle cx="428.12" cy="219.10" r="1.35"/><circle cx="428.99" cy="217.18" r="1.35"/><circle cx="429.85" cy="219.35" r="1.35"/><circle cx="430.72" cy="218.40" r="1.35"/><circle cx="431.58" cy="219.03" r="1.35"/><circle cx="432.45" cy="218.82" r="1.35"/><circle cx="433.31" cy="216.69" r="1.35"/><circle cx="434.18" cy="217.51" r="1.35"/><circle cx="435.05" cy="213.82" r="1.35"/><circle cx="435.91" cy="218.18" r="1.35"/><circle cx="436.78" cy="213.81" r="1.35"/><circle cx="437.64" cy="217.18" r="1.35"/><circle cx="438.51" cy="216.14" r="1.35"/><circle cx="439.38" cy="217.71" r="1.35"/><circle cx="440.24" cy="218.42" r="1.35"/><circle cx="441.11" cy="214.17" r="1.35"/><circle cx="441.97" cy="215.25" r="1.35"/><circle cx="442.84" cy="215.38" r="1.35"/><circle cx="443.70" cy="220.09" r="1.35"/><circle cx="444.57" cy="222.00" r="1.35"/><circle cx="445.44" cy="220.66" r="1.35"/><circle cx="446.30" cy="216.87" r="1.35"/><circle cx="447.17" cy="221.32" r="1.35"/><circle cx="448.03" cy="213.52" r="1.35"/><circle cx="448.90" cy="221.22" r="1.35"/><circle cx="449.77" cy="215.69" r="1.35"/><circle cx="450.63" cy="211.12" r="1.35"/><circle cx="451.50" cy="224.86" r="1.35"/><circle cx="452.36" cy="222.12" r="1.35"/><circle cx="453.23" cy="214.60" r="1.35"/><circle cx="454.09" cy="219.58" r="1.35"/><circle cx="454.96" cy="217.23" r="1.35"/><circle cx="455.83" cy="221.78" r="1.35"/><circle cx="456.69" cy="214.01" r="1.35"/><circle cx="457.56" cy="215.64" r="1.35"/><circle cx="458.42" cy="219.05" r="1.35"/><circle cx="459.29" cy="218.37" r="1.35"/><circle cx="460.16" cy="221.49" r="1.35"/><circle cx="461.02" cy="217.47" r="1.35"/><circle cx="461.89" cy="223.59" r="1.35"/><circle cx="462.75" cy="215.95" r="1.35"/><circle cx="463.62" cy="218.13" r="1.35"/><circle cx="464.48" cy="212.49" r="1.35"/><circle cx="465.35" cy="214.96" r="1.35"/><circle cx="466.22" cy="221.47" r="1.35"/><circle cx="467.08" cy="214.95" r="1.35"/><circle cx="467.95" cy="218.64" r="1.35"/><circle cx="468.81" cy="217.06" r="1.35"/><circle cx="469.68" cy="216.77" r="1.35"/><circle cx="470.54" cy="216.80" r="1.35"/><circle cx="471.41" cy="216.15" r="1.35"/><circle cx="472.28" cy="216.20" r="1.35"/><circle cx="473.14" cy="219.45" r="1.35"/><circle cx="474.01" cy="219.62" r="1.35"/><circle cx="474.87" cy="215.74" r="1.35"/><circle cx="475.74" cy="216.57" r="1.35"/><circle cx="476.61" cy="218.82" r="1.35"/><circle cx="477.47" cy="218.12" r="1.35"/><circle cx="478.34" cy="220.82" r="1.35"/><circle cx="479.20" cy="224.87" r="1.35"/><circle cx="480.07" cy="219.69" r="1.35"/><circle cx="480.93" cy="219.03" r="1.35"/><circle cx="481.80" cy="216.76" r="1.35"/><circle cx="482.67" cy="216.42" r="1.35"/><circle cx="483.53" cy="215.67" r="1.35"/><circle cx="484.40" cy="214.60" r="1.35"/><circle cx="485.26" cy="216.33" r="1.35"/><circle cx="486.13" cy="218.11" r="1.35"/><circle cx="487.00" cy="220.39" r="1.35"/><circle cx="487.86" cy="216.63" r="1.35"/><circle cx="488.73" cy="218.63" r="1.35"/><circle cx="489.59" cy="214.88" r="1.35"/><circle cx="490.46" cy="222.79" r="1.35"/><circle cx="491.32" cy="218.57" r="1.35"/><circle cx="492.19" cy="223.71" r="1.35"/><circle cx="493.06" cy="219.52" r="1.35"/><circle cx="493.92" cy="221.45" r="1.35"/><circle cx="494.79" cy="217.56" r="1.35"/><circle cx="495.65" cy="219.50" r="1.35"/><circle cx="496.52" cy="224.89" r="1.35"/><circle cx="497.39" cy="215.02" r="1.35"/><circle cx="498.25" cy="221.83" r="1.35"/><circle cx="499.12" cy="221.97" r="1.35"/><circle cx="499.98" cy="219.28" r="1.35"/><circle cx="500.85" cy="219.43" r="1.35"/><circle cx="501.71" cy="221.35" r="1.35"/><circle cx="502.58" cy="215.73" r="1.35"/><circle cx="503.45" cy="218.56" r="1.35"/><circle cx="504.31" cy="215.16" r="1.35"/><circle cx="505.18" cy="215.46" r="1.35"/><circle cx="506.04" cy="215.97" r="1.35"/><circle cx="506.91" cy="217.19" r="1.35"/><circle cx="507.78" cy="217.85" r="1.35"/><circle cx="508.64" cy="219.19" r="1.35"/><circle cx="509.51" cy="213.84" r="1.35"/><circle cx="510.37" cy="223.13" r="1.35"/><circle cx="511.24" cy="220.29" r="1.35"/><circle cx="512.10" cy="221.20" r="1.35"/><circle cx="512.97" cy="219.50" r="1.35"/><circle cx="513.84" cy="218.11" r="1.35"/><circle cx="514.70" cy="220.86" r="1.35"/><circle cx="515.57" cy="218.62" r="1.35"/><circle cx="516.43" cy="213.02" r="1.35"/><circle cx="517.30" cy="220.88" r="1.35"/><circle cx="518.17" cy="228.24" r="1.35"/><circle cx="519.03" cy="212.47" r="1.35"/><circle cx="519.90" cy="220.15" r="1.35"/><circle cx="520.76" cy="218.21" r="1.35"/><circle cx="521.63" cy="220.58" r="1.35"/><circle cx="522.49" cy="221.40" r="1.35"/><circle cx="523.36" cy="214.06" r="1.35"/></g>
<g stroke="#000" stroke-width="1.0" fill="none" stroke-linecap="square">
<rect x="58.8" y="24.5" width="486.68" height="340.0"/>
</g>
<g stroke="#000" stroke-width="1.0"><line x1="80.06" y1="364.5" x2="80.06" y2="368.8"/><line x1="135.47" y1="364.5" x2="135.47" y2="368.8"/><line x1="190.88" y1="364.5" x2="190.88" y2="368.8"/><line x1="246.30" y1="364.5" x2="246.30" y2="368.8"/><line x1="301.71" y1="364.5" x2="301.71" y2="368.8"/><line x1="357.12" y1="364.5" x2="357.12" y2="368.8"/><line x1="412.54" y1="364.5" x2="412.54" y2="368.8"/><line x1="467.95" y1="364.5" x2="467.95" y2="368.8"/><line x1="523.36" y1="364.5" x2="523.36" y2="368.8"/><line x1="54.50" y1="364.50" x2="58.8" y2="364.50"/><line x1="54.50" y1="279.50" x2="58.8" y2="279.50"/><line x1="54.50" y1="194.50" x2="58.8" y2="194.50"/><line x1="54.50" y1="109.50" x2="58.8" y2="109.50"/><line x1="54.50" y1="24.50" x2="58.8" y2="24.50"/></g>
<g font-family="DejaVu Sans" font-size="12.33" fill="#000"><text x="80.06" y="382.5" text-anchor="middle">0</text><text x="135.47" y="382.5" text-anchor="middle">64</text><text x="190.88" y="382.5" text-anchor="middle">128</text><text x="246.30" y="382.5" text-anchor="middle">192</text><text x="301.71" y="382.5" text-anchor="middle">256</text><text x="357.12" y="382.5" text-anchor="middle">320</text><text x="412.54" y="382.5" text-anchor="middle">384</text><text x="467.95" y="382.5" text-anchor="middle">448</text><text x="523.36" y="382.5" text-anchor="middle">512</text><text x="50.4" y="369.19" text-anchor="end">49.0</text><text x="50.4" y="284.19" text-anchor="end">49.5</text><text x="50.4" y="199.19" text-anchor="end">50.0</text><text x="50.4" y="114.19" text-anchor="end">50.5</text><text x="50.4" y="29.19" text-anchor="end">51.0</text></g>
<text x="302.14" y="399.5" text-anchor="middle" font-family="DejaVu Sans" font-size="12.33">Complimented Bit Index</text>
<text transform="translate(15.9 195.00) rotate(-90)" text-anchor="middle" font-family="DejaVu Sans" font-size="12.33">(%) Change of Hash Output Bit</text>
<text x="302.84" y="16.7" text-anchor="middle" font-family="DejaVu Sans" font-size="14.8">SAC of SHA256 Compression Function w/ Message Schedular</text>
<rect x="418.9" y="30.6" width="120.45" height="38.90" rx="2.5" fill="#fff" fill-opacity="0.8" stroke="#cccccc" stroke-width="1.2"/>
<circle cx="436.0" cy="41.4" r="1.35" fill="#1f77b4"/>
<circle cx="436.0" cy="59.6" r="1.35" fill="#ff7f0e"/>
<text x="458.3" y="44.6" font-family="DejaVu Sans" font-size="12.33">Max Change</text>
<text x="458.3" y="62.8" font-family="DejaVu Sans" font-size="12.33">Min Change</text>
</svg>
</body></html>
